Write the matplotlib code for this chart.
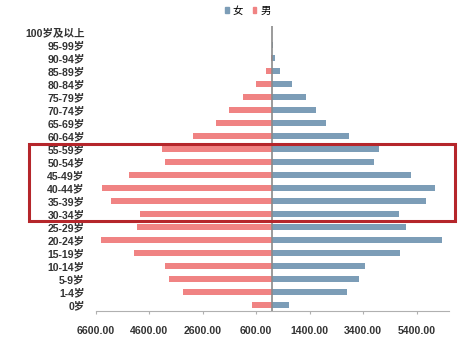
import matplotlib
matplotlib.use("Agg")
import matplotlib.pyplot as plt
from matplotlib.patches import Patch, Rectangle
from matplotlib.ticker import FuncFormatter

plt.rcParams['font.family'] = ['Liberation Sans', 'Noto Sans CJK SC', 'DejaVu Sans']

categories = ["0岁", "1-4岁", "5-9岁", "10-14岁", "15-19岁", "20-24岁", "25-29岁",
              "30-34岁", "35-39岁", "40-44岁", "45-49岁", "50-54岁", "55-59岁",
              "60-64岁", "65-69岁", "70-74岁", "75-79岁", "80-84岁", "85-89岁",
              "90-94岁", "95-99岁", "100岁及以上"]
male = [760, 3340, 3850, 4020, 5160, 6410, 5060, 4940, 6010, 6350, 5360, 4010, 4110,
        2980, 2100, 1620, 1100, 610, 250, 40, 10, 2]
female = [610, 2810, 3240, 3480, 4780, 6330, 5010, 4750, 5740, 6090, 5180, 3800, 3990,
          2880, 2000, 1640, 1250, 740, 300, 90, 20, 5]
xticks = [-6600, -4600, -2600, -600, 1400, 3400, 5400]
legend_labels = ["女", "男"]

blue = "#7C9DB7"
red = "#F08383"

fig = plt.figure(figsize=(4.59, 3.40), dpi=100)
ax = fig.add_axes([95.7/459, 1-311/340, (448.9-95.7)/459, (311-26)/340])

n = len(categories)
y = list(range(n))
ax.barh(y, [-m for m in male], height=0.5, color=red, zorder=2)
ax.barh(y, female, height=0.5, color=blue, zorder=2)
ax.axvline(0, color="#8a8a8a", lw=1.2, zorder=3)

ax.set_xlim(-6600, 6600)
ax.set_ylim(-0.45, n - 1 + 0.48)
ax.set_yticks(y)
ax.set_yticklabels(categories)
ax.set_xticks(xticks)
ax.xaxis.set_major_formatter(FuncFormatter(lambda v, p: f"{abs(v):.2f}"))

for s in ["top", "right", "left"]:
    ax.spines[s].set_visible(False)
ax.spines["bottom"].set_color("#b0b0b0")
ax.tick_params(axis="y", length=0, pad=8, labelsize=7.6, labelcolor="#333333")
ax.tick_params(axis="x", length=2.5, color="#b0b0b0", pad=8, labelsize=7.6,
               labelcolor="#333333")
for lab in ax.get_yticklabels() + ax.get_xticklabels():
    lab.set_fontweight("bold")

handles = [Patch(color=blue), Patch(color=red)]
fig.legend(handles, legend_labels, loc="upper center", bbox_to_anchor=(248/459, 1.01),
           ncol=2, frameon=False, fontsize=7.5, handlelength=0.35, handleheight=0.45,
           handletextpad=0.4, columnspacing=0.9)

rect = Rectangle((28.5/459, 1-221.3/340), (454.5-28.5)/459, (221.3-144)/340,
                 transform=fig.transFigure, fill=False, edgecolor="#B5262B", lw=2.2)
fig.patches.append(rect)

fig.savefig("out.png", dpi=100)
